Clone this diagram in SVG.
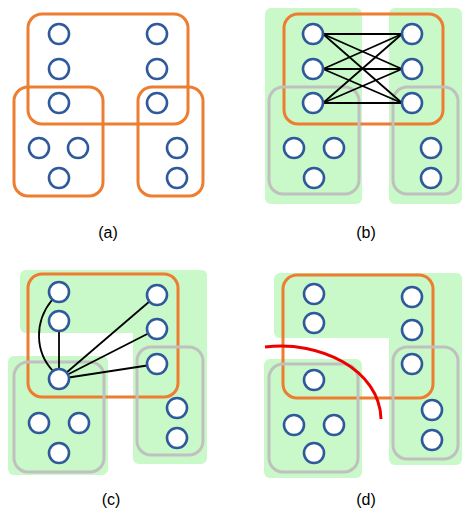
<svg xmlns="http://www.w3.org/2000/svg" width="474" height="522" viewBox="0 0 474 522">
<style>
.bg{fill:#c9f9c9;stroke:none}
.or{fill:none;stroke:#ed7d31;stroke-width:3}
.gr{fill:none;stroke:#c0c0c0;stroke-width:3}
.n{fill:#ffffff;stroke:#2e5a9c;stroke-width:2.6}
.e{fill:none;stroke:#000;stroke-width:1.8}
.lbl{font-family:"Liberation Sans",Arial,sans-serif;font-size:16px;fill:#000;text-anchor:middle}
</style>
<rect width="474" height="522" fill="#fff"/>
<g id="panel-a">
  <rect class="or" x="28" y="14" width="160" height="110" rx="14"/>
  <rect class="or" x="14" y="87" width="89" height="109" rx="14"/>
  <rect class="or" x="138" y="87" width="65" height="109" rx="14"/>
  <g id="a-nodes">
    <circle class="n" cx="59" cy="34" r="10"/><circle class="n" cx="59" cy="69" r="10"/><circle class="n" cx="59" cy="103" r="10"/>
    <circle class="n" cx="157" cy="34" r="10"/><circle class="n" cx="157" cy="69" r="10"/><circle class="n" cx="157" cy="103" r="10"/>
    <circle class="n" cx="39" cy="148" r="10"/><circle class="n" cx="78" cy="148" r="10"/><circle class="n" cx="59" cy="178" r="10"/>
    <circle class="n" cx="177" cy="148" r="10"/><circle class="n" cx="177" cy="178" r="10"/>
  </g>
  <text class="lbl" x="108" y="238">(a)</text>
</g>
<g id="panel-b">
  <rect class="bg" x="265" y="8" width="97" height="196" rx="6"/>
  <rect class="bg" x="389" y="8" width="73" height="196" rx="6"/>
  <rect class="or" x="284" y="14" width="159" height="110" rx="14"/>
  <rect class="gr" x="269" y="87" width="90" height="107" rx="14"/>
  <rect class="gr" x="393" y="87" width="65" height="107" rx="14"/>
  <g id="b-connectors">
    <line class="e" x1="323" y1="34" x2="402" y2="34"/><line class="e" x1="323" y1="34" x2="402" y2="69"/><line class="e" x1="323" y1="34" x2="402" y2="103"/>
    <line class="e" x1="323" y1="69" x2="402" y2="34"/><line class="e" x1="323" y1="69" x2="402" y2="69"/><line class="e" x1="323" y1="69" x2="402" y2="103"/>
    <line class="e" x1="323" y1="103" x2="402" y2="34"/><line class="e" x1="323" y1="103" x2="402" y2="69"/><line class="e" x1="323" y1="103" x2="402" y2="103"/>
  </g>
  <g id="b-nodes">
    <circle class="n" cx="313" cy="34" r="10"/><circle class="n" cx="313" cy="69" r="10"/><circle class="n" cx="313" cy="103" r="10"/>
    <circle class="n" cx="412" cy="34" r="10"/><circle class="n" cx="412" cy="69" r="10"/><circle class="n" cx="412" cy="103" r="10"/>
    <circle class="n" cx="294" cy="148" r="10"/><circle class="n" cx="334" cy="148" r="10"/><circle class="n" cx="314" cy="178" r="10"/>
    <circle class="n" cx="431" cy="148" r="10"/><circle class="n" cx="431" cy="178" r="10"/>
  </g>
  <text class="lbl" x="366" y="238">(b)</text>
</g>
<g id="panel-c">
  <rect class="bg" x="20" y="270" width="187" height="63" rx="6"/>
  <rect class="bg" x="133" y="270" width="74" height="194" rx="6"/>
  <rect class="bg" x="8" y="356" width="100" height="119" rx="6"/>
  <rect class="or" x="28" y="274" width="150" height="123" rx="14"/>
  <rect class="gr" x="14" y="362" width="90" height="110" rx="14"/>
  <rect class="gr" x="137" y="347" width="66" height="108" rx="14"/>
  <g id="c-connectors">
    <path class="e" d="M52,300 C34,322 35,352 53,371"/>
    <line class="e" x1="59" y1="331" x2="59" y2="369"/>
    <line class="e" x1="59" y1="379" x2="157" y2="295"/>
    <line class="e" x1="59" y1="379" x2="157" y2="329"/>
    <line class="e" x1="59" y1="379" x2="157" y2="364"/>
  </g>
  <g id="c-nodes">
    <circle class="n" cx="59" cy="292" r="10"/><circle class="n" cx="59" cy="321" r="10"/><circle class="n" cx="59" cy="379" r="10"/>
    <circle class="n" cx="157" cy="295" r="10"/><circle class="n" cx="157" cy="329" r="10"/><circle class="n" cx="157" cy="364" r="10"/>
    <circle class="n" cx="39" cy="423" r="10"/><circle class="n" cx="79" cy="423" r="10"/><circle class="n" cx="59" cy="453" r="10"/>
    <circle class="n" cx="177" cy="408" r="10"/><circle class="n" cx="177" cy="438" r="10"/>
  </g>
  <text class="lbl" x="111" y="505">(c)</text>
</g>
<g id="panel-d">
  <rect class="bg" x="274" y="273" width="188" height="65" rx="6"/>
  <rect class="bg" x="389" y="273" width="73" height="192" rx="6"/>
  <rect class="bg" x="264" y="359" width="98" height="119" rx="6"/>
  <rect class="or" x="283" y="275" width="150" height="123" rx="14"/>
  <rect class="gr" x="269" y="364" width="89" height="108" rx="14"/>
  <rect class="gr" x="393" y="347" width="65" height="112" rx="14"/>
  <g id="d-nodes">
    <circle class="n" cx="314" cy="294" r="10"/><circle class="n" cx="314" cy="323" r="10"/><circle class="n" cx="314" cy="380" r="10"/>
    <circle class="n" cx="412" cy="297" r="10"/><circle class="n" cx="412" cy="330" r="10"/><circle class="n" cx="412" cy="364" r="10"/>
    <circle class="n" cx="294" cy="425" r="10"/><circle class="n" cx="334" cy="425" r="10"/><circle class="n" cx="314" cy="453" r="10"/>
    <circle class="n" cx="432" cy="410" r="10"/><circle class="n" cx="432" cy="440" r="10"/>
  </g>
  <path d="M265,347 C320,340 380,370 381,419" fill="none" stroke="#ee0000" stroke-width="3"/>
  <text class="lbl" x="366" y="505">(d)</text>
</g>
</svg>
